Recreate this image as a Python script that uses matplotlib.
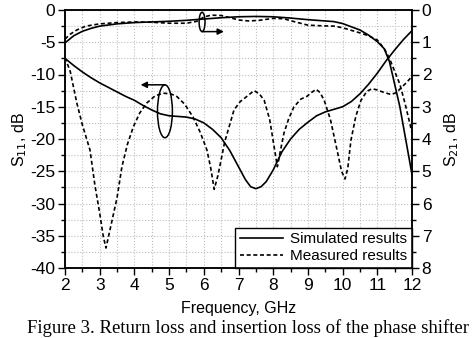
import matplotlib
matplotlib.use("Agg")
import matplotlib.pyplot as plt
from matplotlib.patches import Ellipse
from matplotlib.ticker import MultipleLocator

plt.rcParams.update({
    "font.family": "Liberation Sans",
    "font.size": 11.5,
    "xtick.labelsize": 12.5,
    "ytick.labelsize": 12.5,
    "axes.unicode_minus": False,
})

# S11, dB (left axis)
f_s11_sim = [2.0, 2.25, 2.5, 2.75, 3.0, 3.25, 3.5, 3.75, 4.0, 4.25, 4.5, 4.75,
             5.0, 5.25, 5.5, 5.75, 6.0, 6.25, 6.5, 6.75, 7.0, 7.2, 7.35, 7.5,
             7.65, 7.8, 8.0, 8.25, 8.5, 8.75, 9.0, 9.25, 9.5, 9.75, 10.0, 10.25,
             10.5, 10.75, 11.0, 11.25, 11.5, 11.75, 12.0]
s11_sim = [-7.5, -8.6, -9.6, -10.5, -11.3, -12.0, -12.7, -13.4, -14.0, -14.8,
           -15.5, -16.1, -16.4, -16.5, -16.6, -16.9, -17.5, -18.5, -19.8, -21.8,
           -24.3, -26.3, -27.4, -27.7, -27.4, -26.6, -24.8, -22.0, -20.0, -18.5,
           -17.4, -16.4, -15.8, -15.4, -15.0, -14.2, -13.0, -11.5, -9.8, -7.9,
           -6.2, -4.6, -3.2]

f_s11_meas = [2.0, 2.15, 2.34, 2.5, 2.72, 2.86, 3.0, 3.1, 3.18, 3.3, 3.5, 3.64,
              3.8, 3.97, 4.15, 4.36, 4.6, 4.83, 5.05, 5.22, 5.45, 5.69, 5.9,
              6.09, 6.2, 6.3, 6.4, 6.47, 6.6, 6.87, 7.05, 7.24, 7.45, 7.6,
              7.74, 7.9, 8.02, 8.12, 8.22, 8.31, 8.45, 8.6, 8.8, 8.97, 9.1,
              9.24, 9.35, 9.47, 9.65, 9.84, 9.97, 10.07, 10.15, 10.24, 10.38,
              10.53, 10.7, 10.85, 11.0, 11.2, 11.4, 11.55, 11.7, 11.85, 12.0]
s11_meas = [-7.4, -9.5, -14.4, -17.8, -21.7, -27.1, -31.5, -35.0, -36.9, -34.0,
            -29.1, -24.3, -20.8, -18.1, -16.0, -14.4, -13.3, -12.9, -13.0,
            -13.4, -14.6, -16.6, -19.0, -21.7, -24.5, -27.8, -25.8, -24.0,
            -20.5, -15.5, -14.2, -13.4, -12.5, -13.0, -14.0, -17.0, -21.0,
            -24.3, -21.5, -19.1, -16.8, -15.0, -13.8, -13.4, -12.8, -12.3,
            -12.8, -14.0, -17.0, -21.7, -25.0, -26.2, -24.5, -20.2, -16.5,
            -14.0, -12.6, -12.2, -12.4, -12.8, -13.1, -12.8, -12.0, -11.2,
            -10.3]

# S21, dB (right axis, loss plotted downward)
f_s21_sim = [2.0, 2.25, 2.5, 2.75, 3.0, 3.5, 4.0, 4.5, 5.0, 5.5, 6.0, 6.5, 7.0,
             7.5, 8.0, 8.5, 9.0, 9.5, 9.75, 10.0, 10.25, 10.5, 10.75, 11.0,
             11.2, 11.35, 11.5, 11.65, 11.8, 11.9, 12.0]
s21_sim = [1.02, 0.8, 0.66, 0.57, 0.5, 0.43, 0.39, 0.37, 0.35, 0.32, 0.28,
           0.24, 0.21, 0.2, 0.21, 0.25, 0.3, 0.34, 0.36, 0.42, 0.52, 0.62,
           0.78, 0.98, 1.2, 1.6, 2.3, 3.0, 3.9, 4.5, 5.1]

f_s21_meas = [2.0, 2.15, 2.34, 2.6, 3.0, 3.5, 4.0, 4.5, 5.0, 5.5, 5.8, 6.0,
              6.2, 6.5, 6.8, 7.0, 7.3, 7.6, 8.0, 8.3, 8.6, 9.0, 9.4, 9.75,
              10.0, 10.25, 10.5, 10.75, 11.0, 11.2, 11.35, 11.5, 11.65, 11.8,
              11.9, 12.0]
s21_meas = [0.9, 0.75, 0.62, 0.5, 0.43, 0.39, 0.37, 0.38, 0.41, 0.41, 0.35,
            0.22, 0.16, 0.17, 0.25, 0.31, 0.34, 0.32, 0.26, 0.27, 0.36, 0.47,
            0.49, 0.5, 0.55, 0.63, 0.71, 0.8, 0.93, 1.2, 1.5, 1.9, 2.3, 2.9,
            3.35, 3.8]

x_ticks = list(range(2, 13))
y_ticks_left = list(range(-40, 1, 5))
y_ticks_right = list(range(0, 9))

W, H = 474, 338
fig = plt.figure(figsize=(W / 100, H / 100), dpi=100)
ax = fig.add_axes([65 / W, 1 - 268 / H, 347 / W, 258 / H])
ax2 = ax.twinx()

lw = 1.2
dash = (0, (2.4, 1.6))
ax.plot(f_s11_sim, s11_sim, color="black", lw=lw)
ax.plot(f_s11_meas, s11_meas, color="black", lw=lw, linestyle=dash)
ax2.plot(f_s21_sim, s21_sim, color="black", lw=lw)
ax2.plot(f_s21_meas, s21_meas, color="black", lw=lw, linestyle=dash)

ax.set_xlim(2, 12)
ax.set_ylim(-40, 0)
ax2.set_ylim(8, 0)
ax.set_xticks(x_ticks)
ax.set_yticks(y_ticks_left)
ax2.set_yticks(y_ticks_right)
ax.xaxis.set_minor_locator(MultipleLocator(0.5))
ax.yaxis.set_minor_locator(MultipleLocator(2.5))
ax2.yaxis.set_minor_locator(MultipleLocator(0.5))

ax.grid(True, which="both", color="#bdbdbd", linestyle=":", linewidth=0.8)
ax.set_axisbelow(True)

for a in (ax, ax2):
    a.tick_params(which="major", direction="out", length=5, width=1, pad=2)
    a.tick_params(which="minor", direction="out", length=3, width=1)
    for s in a.spines.values():
        s.set_linewidth(1.1)

ax.set_xlabel("Frequency, GHz", labelpad=6)
ax.set_ylabel("S$_{11}$, dB", labelpad=1)
ax2.set_ylabel("S$_{21}$, dB", labelpad=8)

# ellipse + arrow markers pointing at the matching axis
ax.add_patch(Ellipse((5.95, -1.85), 0.17, 3.0, fill=False, color="black", lw=1.1, zorder=5))
ax.annotate("", xy=(6.58, -3.35), xytext=(5.95, -3.35),
            arrowprops=dict(arrowstyle="-|>", color="black", lw=1.1,
                            mutation_scale=9, shrinkA=0, shrinkB=0))
ax.add_patch(Ellipse((4.88, -15.7), 0.43, 8.2, fill=False, color="black", lw=1.1, zorder=5))
ax.annotate("", xy=(4.18, -11.6), xytext=(4.88, -11.6),
            arrowprops=dict(arrowstyle="-|>", color="black", lw=1.1,
                            mutation_scale=9, shrinkA=0, shrinkB=0))

h1, = ax.plot([], [], color="black", lw=lw)
h2, = ax.plot([], [], color="black", lw=lw, linestyle=dash)
leg = ax.legend([h1, h2], ["Simulated results", "Measured results"],
                loc="lower right", borderaxespad=0, fancybox=False,
                edgecolor="black", framealpha=1, fontsize=11,
                handlelength=2.8, handletextpad=0.5, labelspacing=0.2,
                borderpad=0.3)
leg.get_frame().set_linewidth(1.0)
leg.set_zorder(10)

fig.text(27 / W, 1 - 333 / H, "Figure 3. Return loss and insertion loss of the phase shifter",
         family="Liberation Serif", fontsize=13.5, ha="left", va="baseline")

fig.savefig("out.png", dpi=100)
